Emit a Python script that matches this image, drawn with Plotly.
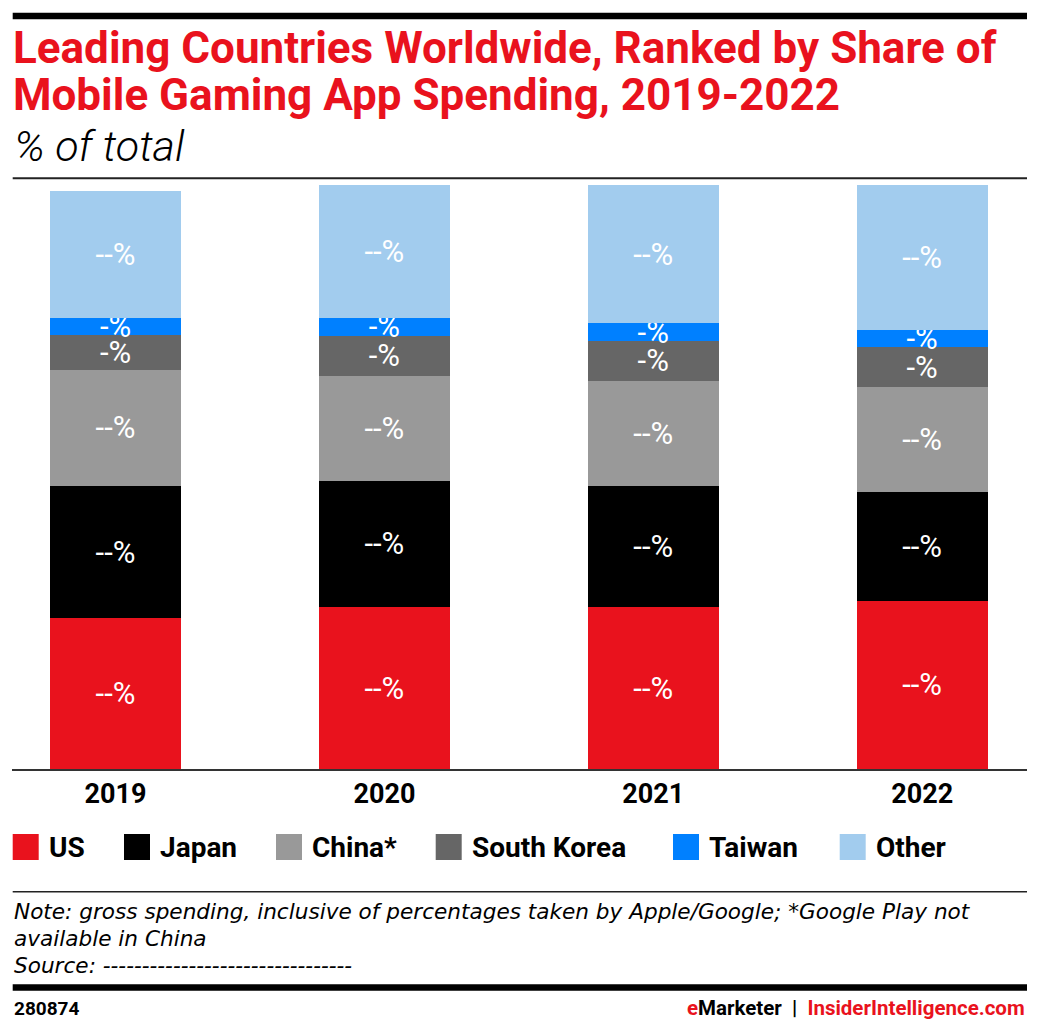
import plotly.graph_objects as go

# ---------------- data ----------------
years = ["2019", "2020", "2021", "2022"]
series_names = ["US", "Japan", "China*", "South Korea", "Taiwan", "Other"]
us = [25.8, 27.7, 27.7, 28.8]
japan = [22.7, 21.7, 20.8, 18.7]
china = [19.8, 17.9, 18.0, 17.9]
south_korea = [6.0, 6.9, 6.8, 6.8]
taiwan = [2.9, 3.0, 3.0, 3.0]
other = [21.8, 22.8, 23.7, 24.8]
series_values = [us, japan, china, south_korea, taiwan, other]
series_labels = ["--%", "--%", "--%", "-%", "-%", "--%"]

title_lines = ["Leading Countries Worldwide, Ranked by Share of",
               "Mobile Gaming App Spending, 2019-2022"]
subtitle = "% of total"
note_lines = ["Note: gross spending, inclusive of percentages taken by Apple/Google; *Google Play not",
              "available in China",
              "Source: --------------------------------"]
chart_id = "280874"

# ---------------- styles / layout ----------------
RED = "#E9121D"
colors = [RED, "#000000", "#999999", "#666666", "#0080FF", "#A2CCEE"]
FONT = "Roboto"
NOTE_FONT = "DejaVu Sans"

W, H = 1038, 1033
L, R, T, B = 12, 11, 178, 264
plot_w = W - L - R
plot_h = H - T - B
px_per_pct = 5.84
y_max = plot_h / px_per_pct


def px(xp):
    return (xp - L) / plot_w


def py(yp):
    return (H - B - yp) / plot_h


fig = go.Figure()
for name, vals, lbl, col in zip(series_names, series_values, series_labels, colors):
    fig.add_trace(go.Bar(
        x=years, y=vals, name=name,
        marker=dict(color=col, line=dict(width=0)),
        width=0.487,
        text=[lbl] * len(vals),
        textposition="inside", insidetextanchor="middle", textangle=0,
        textfont=dict(family=FONT, size=31, color="white"),
        showlegend=False, hoverinfo="skip",
    ))

shapes = []
# horizontal rules
for yp, lw, col in [(16, 6.5, "#000000"), (178.3, 2, "#222222"),
                    (891.7, 1.5, "#222222"), (987.5, 6.5, "#000000")]:
    shapes.append(dict(type="line", xref="paper", yref="paper",
                       x0=px(12.7), x1=1, y0=py(yp), y1=py(yp),
                       line=dict(color=col, width=lw)))

annotations = []
# title
for txt, yc in zip(title_lines, [48.3, 95]):
    annotations.append(dict(text=txt, xref="paper", yref="paper", x=px(11), y=py(yc),
                            xanchor="left", yanchor="middle", showarrow=False,
                            font=dict(family=FONT, size=44, color=RED, weight="bold")))
annotations.append(dict(text=subtitle, xref="paper", yref="paper", x=px(12), y=py(146),
                        xanchor="left", yanchor="middle", showarrow=False,
                        font=dict(family=FONT, size=43, color="#000000", style="italic", weight=300)))

# custom legend
legend_x = [12.7, 124, 276, 435.7, 673, 839.7]
for name, col, lx in zip(series_names, colors, legend_x):
    shapes.append(dict(type="rect", xref="paper", yref="paper",
                       x0=px(lx), x1=px(lx + 26), y0=py(860), y1=py(834),
                       fillcolor=col, line=dict(width=0)))
    annotations.append(dict(text=name, xref="paper", yref="paper", x=px(lx + 34), y=py(847),
                            xanchor="left", yanchor="middle", showarrow=False,
                            font=dict(family=FONT, size=28, color="#000000", weight="bold")))

# notes
for txt, yc in zip(note_lines, [911, 939, 965]):
    annotations.append(dict(text=txt, xref="paper", yref="paper", x=px(12), y=py(yc),
                            xanchor="left", yanchor="middle", showarrow=False,
                            font=dict(family=NOTE_FONT, size=21.6, color="#000000", style="italic")))

# footer
annotations.append(dict(text=chart_id, xref="paper", yref="paper", x=px(12), y=py(1008),
                        xanchor="left", yanchor="middle", showarrow=False,
                        font=dict(family=FONT, size=19, color="#000000", weight="bold")))
annotations.append(dict(
    text=f"<span style='color:{RED}'>e</span>Marketer\u00a0\u00a0|\u00a0\u00a0<span style='color:{RED}'>InsiderIntelligence.com</span>",
    xref="paper", yref="paper", x=px(1027), y=py(1008),
    xanchor="right", yanchor="middle", showarrow=False,
    font=dict(family=FONT, size=20.5, color="#000000", weight="bold")))

fig.update_layout(
    width=W, height=H,
    margin=dict(l=L, r=R, t=T, b=B, pad=0),
    paper_bgcolor="white", plot_bgcolor="white",
    barmode="stack",
    uniformtext=dict(minsize=31, mode="show"),
    showlegend=False,
    xaxis=dict(type="category", range=[-0.385, 3.39], showline=True,
               linecolor="#333333", linewidth=1.5, ticks="", ticklen=0,
               showgrid=False, zeroline=False,
               tickfont=dict(family=FONT, size=27, color="#000000", weight="bold")),
    yaxis=dict(range=[0, y_max], visible=False, showgrid=False, zeroline=False),
    shapes=shapes, annotations=annotations,
)

fig.write_html("out.html")
